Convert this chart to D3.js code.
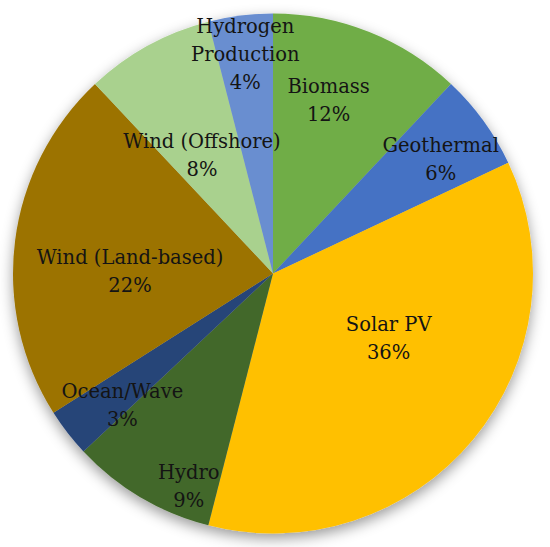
<!DOCTYPE html>
<html>
<head>
<meta charset="utf-8">
<script src="https://cdn.jsdelivr.net/npm/d3@7"></script>
<style>
  html, body { margin: 0; padding: 0; background: #fff; }
  svg { display: block; }
</style>
</head>
<body>
<svg id="chart" width="550" height="547"></svg>
<script>
// Data: share of each renewable source (clockwise from 12 o'clock)
const sources = ["Biomass", "Geothermal", "Solar PV", "Hydro", "Ocean/Wave",
                 "Wind (Land-based)", "Wind (Offshore)", "Hydrogen Production"];
const shares = [12, 6, 36, 9, 3, 22, 8, 4];
// label lines (Excel wraps some names)
const labelLines = [["Biomass"], ["Geothermal"], ["Solar PV"], ["Hydro"], ["Ocean/Wave"],
                    ["Wind (Land-based)"], ["Wind (Offshore)"], ["Hydrogen", "Production"]];

const colors = ["#70AD47", "#4472C4", "#FFC000", "#43682B", "#264478",
                "#9C7302", "#A9D18E", "#698ED0"];

// label placement: fraction of radius and angle nudge (deg) from slice middle
const labelRadius = [0.70, 0.78, 0.51, 0.88, 0.77, 0.55, 0.53, 0.85];
const labelShift = [-3.8, 1.8, -10.3, -9, -3.4, -6.2, -2.2, 0];

const svg = d3.select("#chart"),
      cx = 273, cy = 273.5, R = 260;

// soft drop shadow under the pie
const defs = svg.append("defs");
const f = defs.append("filter").attr("id", "shadow")
    .attr("x", "-20%").attr("y", "-20%").attr("width", "140%").attr("height", "140%");
f.append("feDropShadow")
    .attr("dx", 0).attr("dy", 5)
    .attr("stdDeviation", 7)
    .attr("flood-color", "#000")
    .attr("flood-opacity", 0.4);

const data = sources.map((s, i) => ({ name: s, value: shares[i], i: i }));

const pie = d3.pie().value(d => d.value).sort(null);
const arcs = pie(data);
const arc = d3.arc().innerRadius(0).outerRadius(R);
const color = d3.scaleOrdinal().domain(sources).range(colors);

const g = svg.append("g").attr("transform", `translate(${cx},${cy})`);

g.append("g").attr("filter", "url(#shadow)")
  .selectAll("path")
  .data(arcs)
  .enter().append("path")
  .attr("d", arc)
  .attr("fill", d => color(d.data.name));

// labels
const fontSize = 19.5, lineH = 28;
const labels = g.append("g")
  .selectAll("text")
  .data(arcs)
  .enter().append("text")
  .attr("text-anchor", "middle")
  .attr("font-family", "DejaVu Serif, serif")
  .attr("font-size", fontSize)
  .attr("fill", "#141414")
  .attr("transform", d => {
      const k = d.data.i;
      const a = (d.startAngle + d.endAngle) / 2 + labelShift[k] * Math.PI / 180;
      const r = R * labelRadius[k];
      return `translate(${r * Math.sin(a)},${-r * Math.cos(a)})`;
  });

labels.each(function(d) {
    const lines = labelLines[d.data.i].concat([d.data.value + "%"]);
    const t = d3.select(this);
    const top = -(lines.length - 1) * lineH / 2;
    lines.forEach((ln, j) => {
        t.append("tspan")
          .attr("x", 0)
          .attr("y", top + j * lineH)
          .attr("dy", "0.35em")
          .text(ln);
    });
});
</script>
</body>
</html>
